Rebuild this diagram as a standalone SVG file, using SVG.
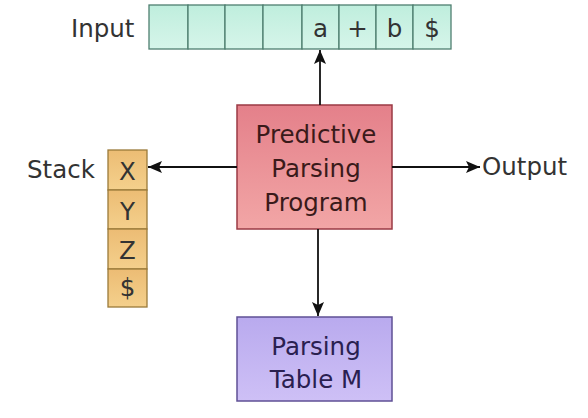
<svg xmlns="http://www.w3.org/2000/svg" width="588" height="418" viewBox="0 0 588 418">
<style>
text{font-family:"DejaVu Sans",Verdana,sans-serif;font-size:24.5px;fill:#333}
.c{text-anchor:middle}
.in{fill:url(#gIn);stroke:#4f7f70;stroke-width:1.3}
.st{fill:url(#gSt);stroke:#9a7a3a;stroke-width:1.3}
.bt{fill:#3a1a1a}
.tt{fill:#2a2050}
.ln{stroke:#111;stroke-width:1.8;fill:none;marker-end:url(#ah)}
</style>
<defs>
<linearGradient id="gIn" x1="0" y1="0" x2="0" y2="1"><stop offset="0" stop-color="#bfeedd"/><stop offset="1" stop-color="#d6f5ea"/></linearGradient>
<linearGradient id="gSt" x1="0" y1="0" x2="0" y2="1"><stop offset="0" stop-color="#ecbc74"/><stop offset="1" stop-color="#f4d08c"/></linearGradient>
<linearGradient id="gPr" x1="0" y1="0" x2="0" y2="1"><stop offset="0" stop-color="#e4808a"/><stop offset="1" stop-color="#f2a6a6"/></linearGradient>
<linearGradient id="gTb" x1="0" y1="0" x2="0" y2="1"><stop offset="0" stop-color="#b9aaee"/><stop offset="1" stop-color="#cec0f6"/></linearGradient>
<marker id="ah" viewBox="0 0 14 12" refX="14" refY="6" markerWidth="14" markerHeight="12" markerUnits="userSpaceOnUse" orient="auto"><path d="M0,0 L14,6 L0,12 L3,6 z" fill="#111"/></marker>
</defs>
<rect width="588" height="418" fill="#fff"/>
<g id="input">
<text x="71" y="37">Input</text>
<rect class="in" x="149" y="5" width="39" height="44"/>
<rect class="in" x="188" y="5" width="37" height="44"/>
<rect class="in" x="225" y="5" width="38" height="44"/>
<rect class="in" x="263" y="5" width="39" height="44"/>
<rect class="in" x="302" y="5" width="37" height="44"/>
<rect class="in" x="339" y="5" width="37" height="44"/>
<rect class="in" x="376" y="5" width="37" height="44"/>
<rect class="in" x="413" y="5" width="38" height="44"/>
<text class="c" x="320.5" y="37">a</text>
<text class="c" x="357.5" y="37">+</text>
<text class="c" x="394.5" y="37">b</text>
<text class="c" x="432" y="37">$</text>
</g>
<g id="stack">
<text x="27" y="178">Stack</text>
<rect class="st" x="108" y="150" width="39" height="40"/>
<rect class="st" x="108" y="190" width="39" height="39"/>
<rect class="st" x="108" y="229" width="39" height="40"/>
<rect class="st" x="108" y="269" width="39" height="38"/>
<text class="c" x="127.5" y="180">X</text>
<text class="c" x="127.5" y="220">Y</text>
<text class="c" x="127.5" y="259">Z</text>
<text class="c" x="127.5" y="296">$</text>
</g>
<g id="program">
<rect x="237" y="105" width="155" height="124" fill="url(#gPr)" stroke="#9a3a44" stroke-width="1.5"/>
<text class="c bt" x="316" y="143">Predictive</text>
<text class="c bt" x="316" y="177">Parsing</text>
<text class="c bt" x="316" y="211">Program</text>
</g>
<g id="table">
<rect x="237" y="317" width="155" height="84" fill="url(#gTb)" stroke="#5f5095" stroke-width="1.5"/>
<text class="c tt" x="316" y="355">Parsing</text>
<text class="c tt" x="316" y="388">Table M</text>
</g>
<g id="output">
<text x="482" y="175">Output</text>
</g>
<g id="connectors">
<line class="ln" x1="320" y1="105" x2="320" y2="50"/>
<line class="ln" x1="237" y1="167" x2="148" y2="167"/>
<line class="ln" x1="392" y1="167" x2="480" y2="167"/>
<line class="ln" x1="318" y1="229" x2="318" y2="316"/>
</g>
</svg>
